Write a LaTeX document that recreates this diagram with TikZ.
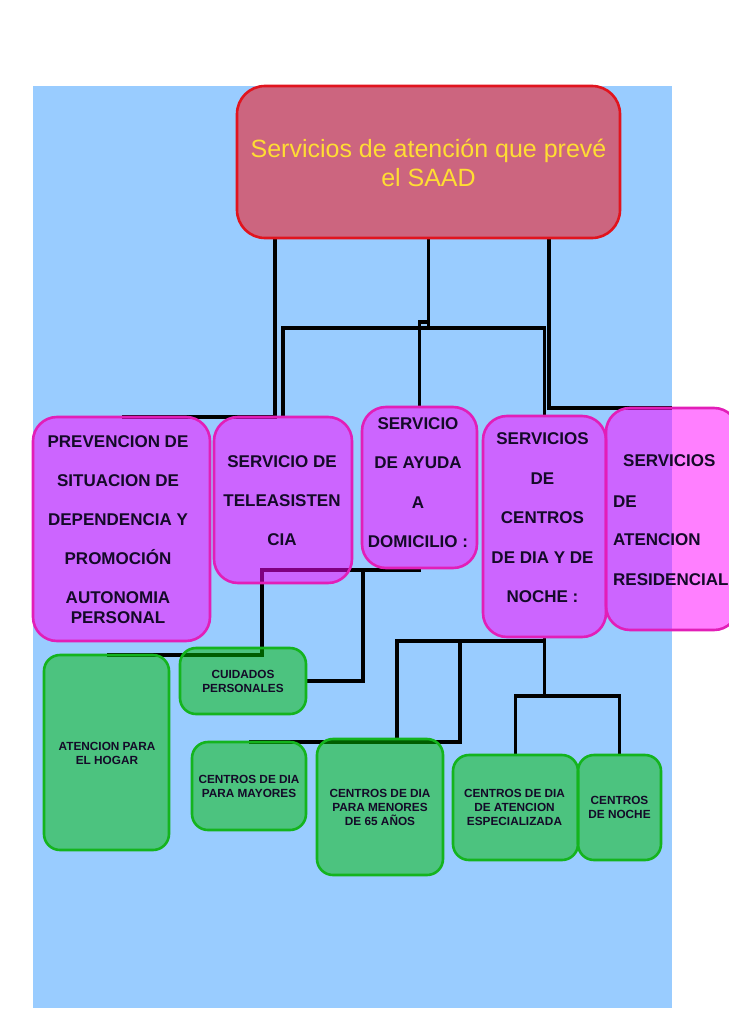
\documentclass[tikz,border=0pt]{standalone}
\usepackage{fontspec}
\setmainfont{Liberation Sans}
\definecolor{bgblue}{RGB}{153,204,255}
\definecolor{redborder}{RGB}{225,20,30}
\definecolor{redfill}{RGB}{255,0,0}
\definecolor{magborder}{RGB}{226,30,184}
\definecolor{magfill}{RGB}{255,0,255}
\definecolor{grnborder}{RGB}{20,180,30}
\definecolor{grnfill}{RGB}{0,187,0}
\definecolor{titleyellow}{RGB}{255,221,51}
\definecolor{textdark}{RGB}{20,10,40}
\pgfdeclarelayer{bg}
\pgfsetlayers{bg,main}
\begin{document}
\begin{tikzpicture}[x=1pt,y=-1pt,
  conn/.style={line width=3.4pt, black},
  rbox/.style={draw=redborder, line width=2.6pt, fill=redfill, fill opacity=0.5, rounded corners=28pt, inner sep=0pt, outer sep=0pt},
  mbox/.style={draw=magborder, line width=2.6pt, fill=magfill, fill opacity=0.5, rounded corners=24pt, inner sep=0pt, outer sep=0pt},
  gbox/.style={draw=grnborder, line width=2.6pt, fill=grnfill, fill opacity=0.5, rounded corners=16pt, inner sep=0pt, outer sep=0pt},
  ttext/.style={text=titleyellow, align=center, inner sep=0pt, font=\fontsize{25}{29.5}\selectfont},
  mtext/.style={text=textdark, align=center, inner sep=0pt, font=\bfseries\fontsize{17}{39}\selectfont},
  gtext/.style={text=textdark, align=center, inner sep=0pt, font=\bfseries\fontsize{11.8}{14}\selectfont}]
\useasboundingbox (0,0) rectangle (728,1030);
\begin{pgfonlayer}{bg}
  \fill[bgblue] (33,86.5) rectangle (671.5,1008);
\end{pgfonlayer}

% title
\node[rbox, minimum width=383pt, minimum height=152pt] (top) at (428.5,162) {};
\node[ttext] (topT) at (428.5,163) {Servicios de atención que prevé\\el SAAD};

% magenta boxes
\node[mbox, minimum width=177pt, minimum height=224pt] (prev) at (121.5,529) {};
\node[mtext] (prevT) at (118,530) {PREVENCION DE\\SITUACION DE\\DEPENDENCIA Y\\PROMOCIÓN\\AUTONOMIA\\[-19pt]PERSONAL};
\node[mbox, minimum width=138pt, minimum height=166pt] (tele) at (283,500) {};
\node[mtext] (teleT) at (282,501) {SERVICIO DE\\TELEASISTEN\\CIA};
\node[mbox, minimum width=115pt, minimum height=161pt] (ayuda) at (419.5,487.5) {};
\node[mtext, font=\bfseries\fontsize{17}{39.5}\selectfont] (ayudaT) at (418,482.5) {SERVICIO\\DE AYUDA\\A\\DOMICILIO :};
\node[mbox, minimum width=123pt, minimum height=221pt] (centros) at (544.5,526.5) {};
\node[mtext, font=\bfseries\fontsize{17}{39.5}\selectfont] (centrosT) at (542.5,518) {SERVICIOS\\DE\\CENTROS\\DE DIA Y DE\\NOCHE :};
\node[mbox, minimum width=132pt, minimum height=222pt] (resid) at (672,519) {};
\node[mtext, align=left, anchor=west] (residT) at (613,520.5) {\hspace*{10pt}SERVICIOS\\[2pt]DE\\[-1pt]ATENCION\\[1pt]RESIDENCIAL};

% green boxes
\node[gbox, minimum width=126pt, minimum height=66pt] (cuid) at (243,681) {};
\node[gtext] (cuidT) at (243,681) {CUIDADOS\\PERSONALES};
\node[gbox, minimum width=125pt, minimum height=195pt] (hogar) at (106.5,752.5) {};
\node[gtext] (hogarT) at (107,753) {ATENCION PARA\\EL HOGAR};
\node[gbox, minimum width=114pt, minimum height=88pt] (mayores) at (249,786) {};
\node[gtext] (mayoresT) at (249,786.5) {CENTROS DE DIA\\PARA MAYORES};
\node[gbox, minimum width=126pt, minimum height=136pt] (menores) at (380,807) {};
\node[gtext] (menoresT) at (380,807) {CENTROS DE DIA\\PARA MENORES\\DE 65 AÑOS};
\node[gbox, minimum width=125pt, minimum height=105pt] (espec) at (515.5,807.5) {};
\node[gtext] (especT) at (514.5,807.5) {CENTROS DE DIA\\DE ATENCION\\ESPECIALIZADA};
\node[gbox, minimum width=83pt, minimum height=105pt] (noche) at (619.5,807.5) {};
\node[gtext] (nocheT) at (619.5,807) {CENTROS\\DE NOCHE};

% junctions
\coordinate (jA) at (262,570);
\coordinate (jB) at (363,570);
\coordinate (jD) at (397,641);
\coordinate (jC) at (460,641);
\coordinate (jE) at (544.5,696);

\begin{pgfonlayer}{bg}
  \draw[conn] ([xshift=-153.5pt]top.south) |- (prev.north);
  \draw[conn] (top.south) -- ++(0,90);
  \draw[conn] ([yshift=-84pt]top.south) -| (ayuda.north);
  \draw[conn] (tele.north) -- ++(0,-89) -| (centros.north);
  \draw[conn] ([xshift=120.5pt]top.south) |- (resid.north);
  \draw[conn] (ayuda.south) |- (jA) |- (hogar.north);
  \draw[conn] (jB) |- (cuid.east);
  \draw[conn] (centros.south) |- (jD) -- (jD |- menores.north);
  \draw[conn] (jC) |- (mayores.north);
  \draw[conn] (centros.south) -- (jE);
  \draw[conn] (espec.north) |- (jE) -| (noche.north);
\end{pgfonlayer}
\end{tikzpicture}
\end{document}
